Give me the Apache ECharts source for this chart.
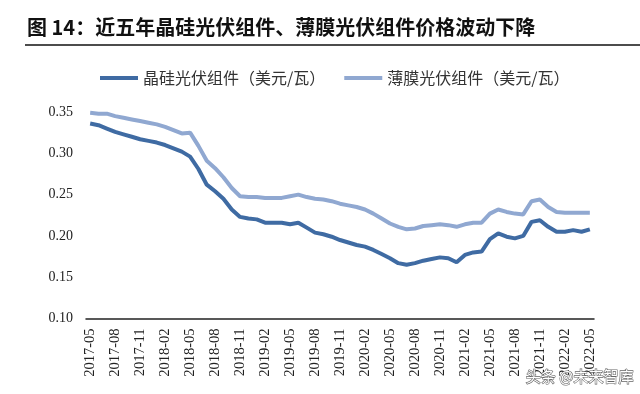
<!DOCTYPE html>
<html>
<head>
<meta charset="utf-8">
<script src="https://cdn.jsdelivr.net/npm/echarts@6/dist/echarts.min.js"></script>
<style>
html,body{margin:0;padding:0;background:#fff;}
#c{width:640px;height:394px;}
</style>
</head>
<body>
<div id="c"></div>
<script>
var categories = [
'2017-05','2017-06','2017-07','2017-08','2017-09','2017-10','2017-11','2017-12',
'2018-01','2018-02','2018-03','2018-04','2018-05','2018-06','2018-07','2018-08','2018-09','2018-10','2018-11','2018-12',
'2019-01','2019-02','2019-03','2019-04','2019-05','2019-06','2019-07','2019-08','2019-09','2019-10','2019-11','2019-12',
'2020-01','2020-02','2020-03','2020-04','2020-05','2020-06','2020-07','2020-08','2020-09','2020-10','2020-11','2020-12',
'2021-01','2021-02','2021-03','2021-04','2021-05','2021-06','2021-07','2021-08','2021-09','2021-10','2021-11','2021-12',
'2022-01','2022-02','2022-03','2022-04','2022-05'
];
var crystallineSi = [
0.336,0.334,0.330,0.326,0.323,0.320,0.317,0.315,0.313,0.310,0.306,0.302,0.296,0.281,0.262,0.254,0.245,0.232,0.223,0.221,
0.220,0.216,0.216,0.216,0.214,0.216,0.210,0.204,0.202,0.199,0.195,0.192,0.189,0.187,0.183,0.178,0.173,0.167,0.165,0.167,
0.170,0.172,0.174,0.173,0.168,0.177,0.180,0.181,0.196,0.203,0.199,0.197,0.200,0.217,0.219,0.211,0.205,0.205,0.207,0.205,0.208
];
var thinFilm = [
0.349,0.348,0.348,0.345,0.343,0.341,0.339,0.337,0.335,0.332,0.328,0.324,0.325,0.309,0.291,0.282,0.271,0.258,0.248,0.247,
0.247,0.246,0.246,0.246,0.248,0.250,0.247,0.245,0.244,0.242,0.239,0.237,0.235,0.232,0.227,0.221,0.215,0.211,0.208,0.209,
0.212,0.213,0.214,0.213,0.211,0.214,0.216,0.216,0.227,0.232,0.229,0.227,0.226,0.242,0.244,0.235,0.229,0.228,0.228,0.228,0.228
];
var seriesNames = ['晶硅光伏组件（美元/瓦）','薄膜光伏组件（美元/瓦）'];
var yTicks = {min:0.10, max:0.35, interval:0.05};

var chart = echarts.init(document.getElementById('c'), null, {renderer:'canvas'});
var serif = '"Liberation Serif","DejaVu Serif",serif';
var cjk = '"Noto Sans CJK SC","Noto Sans",sans-serif';
chart.setOption({
  animation:false,
  backgroundColor:'#fff',
  color:['#3F6BA3','#90A8D1'],
  graphic:[
    {type:'text', left:27, top:17, style:{text:'图 14：近五年晶硅光伏组件、薄膜光伏组件价格波动下降', font:'bold 20px '+cjk, fill:'#111'}},
    {type:'line', shape:{x1:25,y1:45,x2:640,y2:45}, style:{stroke:'#111', lineWidth:1.5}},
    {type:'text', right:6, top:368, z:100, style:{text:'头条 @未来智库', font:'15px '+cjk, fill:'#fff', stroke:'#666', lineWidth:1.2}}
  ],
  legend:{
    left:95, top:65,
    icon:'rect', itemWidth:38, itemHeight:4, itemGap:19,
    textStyle:{fontFamily:cjk, fontSize:16, color:'#333'},
    data:seriesNames
  },
  grid:{left:86, top:112, width:508, height:206.5, containLabel:false},
  xAxis:{
    type:'category', data:categories, boundaryGap:true,
    axisLine:{lineStyle:{color:'#222', width:1.5}},
    axisTick:{inside:true, length:4, interval:2, lineStyle:{color:'#222', width:1.2}},
    axisLabel:{interval:2, rotate:90, margin:10, fontFamily:serif, fontSize:14.5, color:'#222'}
  },
  yAxis:{
    type:'value', min:yTicks.min, max:yTicks.max, interval:yTicks.interval,
    axisLine:{show:false}, axisTick:{show:false}, splitLine:{show:false},
    axisLabel:{margin:13, fontFamily:serif, fontSize:14, color:'#222', formatter:function(v){return v.toFixed(2);}}
  },
  series:[
    {name:seriesNames[0], type:'line', data:crystallineSi, showSymbol:false, lineStyle:{width:4}, z:3},
    {name:seriesNames[1], type:'line', data:thinFilm, showSymbol:false, lineStyle:{width:4}, z:2}
  ]
});
</script>
</body>
</html>
